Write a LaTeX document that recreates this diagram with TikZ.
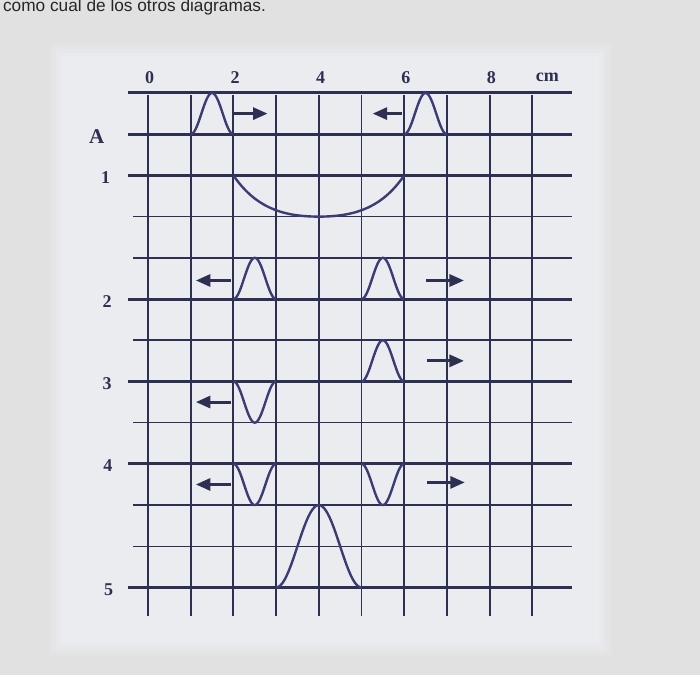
\documentclass[tikz,border=0pt]{standalone}
\usepackage{fontspec}
\setmainfont{Liberation Serif}
\newfontfamily\captionsans{Liberation Sans}
\usetikzlibrary{arrows.meta}
\definecolor{gridink}{RGB}{46,48,82}
\definecolor{waveink}{RGB}{60,60,116}
\definecolor{photogray}{RGB}{225,225,225}
\definecolor{cardwhite}{RGB}{235,236,240}

\tikzset{
  thickline/.style={draw=gridink, line width=2pt},
  thinline/.style={draw=gridink, line width=1pt},
  vline/.style={draw=gridink, line width=1.3pt},
  wave/.style={draw=waveink, line width=1.6pt, line join=round},
  dirarrow/.style={draw=gridink, line width=2pt, -{Triangle[length=3.4mm,width=2.8mm]}},
  lbl/.style={font=\bfseries\fontsize{12}{14}\selectfont, text=gridink, inner sep=0pt},
}

% pulse: start x, row, width, height (negative = downwards)
\newcommand{\pulse}[4]{%
  \draw[wave] plot[domain=0:1, samples=41] ({#1+#3*\x},{#2-(#4)*(1-cos(360*\x))/2});
}

\begin{document}
\begin{tikzpicture}[x=1cm, y={(0,-0.965cm)}]
    \useasboundingbox (-3.466,-2.257) rectangle (12.927,14.126);
    \fill[photogray] (-3.466,-2.257) rectangle (12.927,14.126);
    % soft edge of the lighter sheet
    \foreach \k in {0,...,5}
        \fill[photogray!\the\numexpr 100-\k*20\relax!cardwhite]
            (-2.4+\k*0.08,-1.3+\k*0.08) rectangle (10.95-\k*0.08,13.75-\k*0.08);

    \node[anchor=base west, inner sep=0pt, text=black!85,
          font=\captionsans\fontsize{11.5}{13}\selectfont] (caption)
          at (-3.4,-1.98) {como cual de los otros diagramas.};

    % grid
    \foreach \r in {0,1,2,5,7,9,12}
        \draw[thickline] (-0.47,\r) -- (9.93,\r);
    \foreach \r in {3,4,6,8,10,11}
        \draw[thinline] (-0.35,\r) -- (9.93,\r);
    \foreach \c in {0,...,9}
        \draw[vline] (\c,0.05) -- (\c,12.7);

    % scale and row labels
    \foreach \v in {0,2,4,6,8}
        \node[lbl] (tick\v) at (\v+0.04,-0.37) {\v};
    \node[lbl] (unit) at (9.35,-0.37) {cm};
    \node[lbl, font=\bfseries\fontsize{14}{16}\selectfont] (rowA) at (-1.2,1.05) {A};
    \node[lbl] (row1) at (-0.99,2.05) {1};
    \node[lbl] (row2) at (-0.96,5.05) {2};
    \node[lbl] (row3) at (-0.96,7.05) {3};
    \node[lbl] (row4) at (-0.94,9.05) {4};
    \node[lbl] (row5) at (-0.92,12.05) {5};

    % A
    \pulse{1}{1}{1}{1}
    \pulse{6}{1}{1}{1}
    \draw[dirarrow] (2.02,0.5) -- (2.8,0.5);
    \draw[dirarrow] (5.95,0.5) -- (5.26,0.5);

    % 1
    \draw[wave] (2,2) .. controls (2.5,2.75) and (3.1,3) .. (4,3)
                      .. controls (4.9,3) and (5.5,2.75) .. (6,2);

    % 2
    \pulse{2}{5}{1}{1}
    \pulse{5}{5}{1}{1}
    \draw[dirarrow] (1.95,4.55) -- (1.12,4.55);
    \draw[dirarrow] (6.52,4.55) -- (7.4,4.55);

    % 3
    \pulse{2}{7}{1}{-1}
    \pulse{5}{7}{1}{1}
    \draw[dirarrow] (6.54,6.5) -- (7.4,6.5);
    \draw[dirarrow] (1.95,7.5) -- (1.12,7.5);

    % 4
    \pulse{2}{9}{1}{-1}
    \pulse{5}{9}{1}{-1}
    \draw[dirarrow] (1.95,9.5) -- (1.12,9.5);
    \draw[dirarrow] (6.54,9.45) -- (7.42,9.45);

    % 5
    \pulse{3}{12}{2}{2}
\end{tikzpicture}
\end{document}
